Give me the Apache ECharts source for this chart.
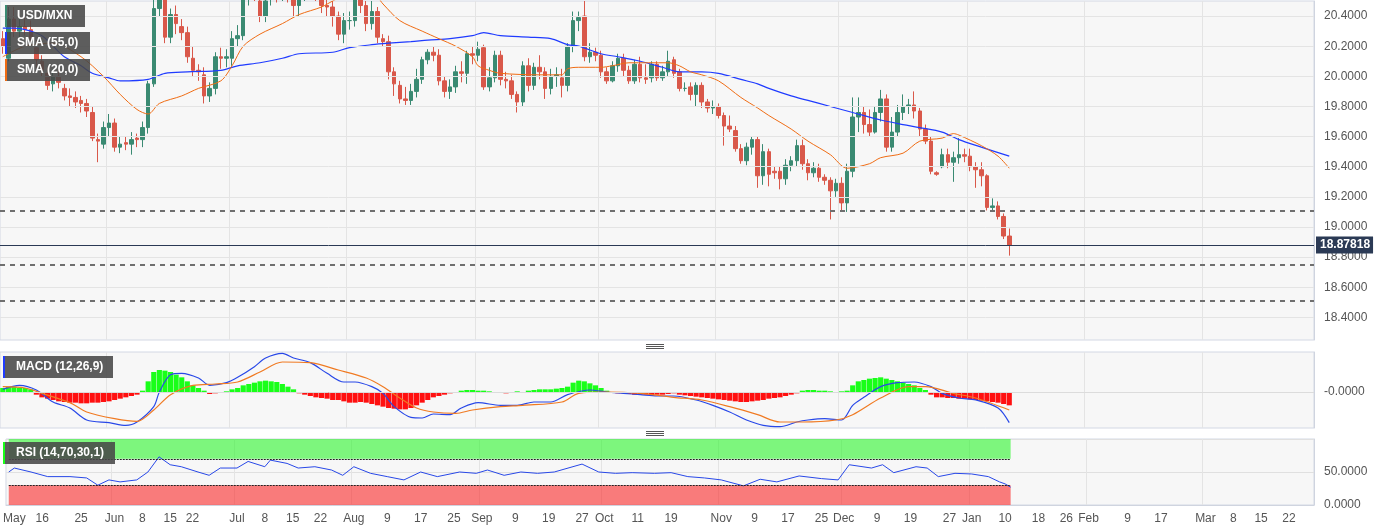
<!DOCTYPE html>
<html><head><meta charset="utf-8">
<script src="https://cdn.jsdelivr.net/npm/echarts@6/dist/echarts.min.js"></script>
<style>html,body{margin:0;padding:0;background:#fff}#c{width:1387px;height:532px}</style>
</head><body><div id="c"></div>
<script>
// [open, close, low, high]
const candles = [
[20.25,20.20,20.15,20.30],[20.12,20.38,20.10,20.46],[20.38,20.30,20.26,20.46],[20.30,20.33,20.25,20.40],[20.33,20.31,20.27,20.39],
[20.31,20.25,20.20,20.37],[20.19,20.11,20.06,20.24],[20.10,20.04,20.00,20.14],[20.02,19.94,19.91,20.06],[19.95,20.00,19.90,20.05],
[20.00,19.96,19.92,20.05],[19.92,19.87,19.84,19.95],[19.87,19.86,19.80,19.92],[19.86,19.83,19.79,19.90],[19.84,19.82,19.76,19.87],
[19.82,19.77,19.73,19.85],[19.76,19.59,19.57,19.80],[19.58,19.57,19.43,19.62],[19.55,19.66,19.52,19.70],[19.66,19.69,19.60,19.75],
[19.69,19.53,19.50,19.72],[19.53,19.55,19.49,19.60],[19.56,19.55,19.51,19.60],[19.55,19.58,19.48,19.63],[19.59,19.58,19.53,19.62],
[19.58,19.66,19.53,19.70],[19.66,19.95,19.62,19.97],[19.95,20.45,19.93,20.52],[20.45,20.56,20.40,20.62],[20.55,20.26,20.22,20.58],
[20.26,20.41,20.22,20.45],[20.41,20.35,20.28,20.47],[20.33,20.29,20.24,20.38],[20.29,20.13,20.09,20.33],[20.12,20.04,20.00,20.20],
[20.04,20.03,19.97,20.08],[20.01,19.87,19.82,20.06],[19.87,19.92,19.83,19.96],[19.92,20.13,19.88,20.16],[20.13,20.12,20.05,20.19],
[20.12,20.13,20.06,20.18],[20.12,20.25,20.07,20.30],[20.25,20.27,20.20,20.34],[20.27,20.52,20.24,20.56],[20.52,20.58,20.47,20.63],
[20.58,20.55,20.50,20.62],[20.50,20.40,20.36,20.53],[20.40,20.50,20.36,20.55],[20.52,20.60,20.47,20.65],[20.60,20.55,20.49,20.64],
[20.55,20.62,20.50,20.67],[20.62,20.54,20.49,20.65],[20.54,20.47,20.39,20.58],[20.47,20.55,20.40,20.60],[20.55,20.62,20.50,20.66],
[20.62,20.58,20.53,20.66],[20.58,20.54,20.50,20.62],[20.54,20.47,20.42,20.58],[20.47,20.46,20.40,20.52],[20.46,20.40,20.33,20.50],
[20.40,20.28,20.24,20.43],[20.28,20.37,20.22,20.42],[20.37,20.37,20.31,20.43],[20.37,20.52,20.33,20.56],[20.52,20.47,20.42,20.56],
[20.47,20.35,20.30,20.50],[20.35,20.43,20.31,20.50],[20.43,20.26,20.22,20.46],[20.25,20.23,20.20,20.28],[20.23,20.03,19.98,20.27],
[20.03,19.95,19.87,20.06],[19.94,19.85,19.82,19.97],[19.85,19.84,19.81,19.93],[19.84,19.90,19.81,19.95],[19.90,19.98,19.86,20.05],
[19.98,20.11,19.95,20.13],[20.11,20.16,20.08,20.18],[20.16,20.14,20.10,20.20],[20.14,19.97,19.94,20.18],[19.97,19.90,19.86,20.00],
[19.90,19.93,19.85,19.98],[19.93,20.03,19.89,20.07],[20.03,20.02,19.96,20.10],[20.02,20.15,19.95,20.17],[20.15,20.14,20.08,20.20],
[20.14,20.18,20.10,20.23],[20.19,19.93,19.91,20.21],[19.93,19.99,19.90,20.06],[19.99,20.14,19.96,20.17],[20.14,19.98,19.94,20.17],
[19.98,19.97,19.92,20.03],[19.97,19.88,19.85,20.01],[19.88,19.83,19.76,19.90],[19.83,20.07,19.80,20.10],[20.07,19.94,19.90,20.12],
[19.94,20.06,19.91,20.09],[20.06,20.03,19.98,20.14],[20.03,19.92,19.85,20.06],[19.92,20.00,19.88,20.05],[20.00,20.01,19.93,20.06],
[19.99,19.94,19.86,20.05],[19.94,20.20,19.90,20.22],[20.20,20.37,20.16,20.43],[20.37,20.39,20.30,20.43],[20.40,20.13,20.10,20.50],
[20.13,20.16,20.09,20.22],[20.16,20.14,20.10,20.19],[20.14,20.03,19.99,20.17],[20.03,19.97,19.95,20.06],[19.97,20.07,19.96,20.10],
[20.07,20.12,20.03,20.15],[20.12,20.04,20.00,20.15],[20.04,19.97,19.95,20.07],[19.97,20.08,19.95,20.11],[20.08,19.99,19.96,20.13],
[19.99,19.98,19.95,20.08],[19.99,20.08,19.96,20.10],[20.08,19.99,19.97,20.10],[19.99,20.03,19.97,20.07],[20.03,20.10,20.00,20.17],
[20.11,20.02,19.99,20.13],[20.03,19.92,19.90,20.05],[19.92,19.92,19.90,19.96],[19.93,19.88,19.84,19.96],[19.88,19.94,19.80,19.96],
[19.94,19.83,19.79,19.96],[19.83,19.79,19.76,19.85],[19.79,19.80,19.75,19.84],[19.80,19.74,19.72,19.82],[19.74,19.67,19.54,19.76],
[19.67,19.65,19.63,19.74],[19.64,19.52,19.50,19.67],[19.52,19.44,19.42,19.55],[19.44,19.53,19.41,19.56],[19.53,19.58,19.48,19.60],
[19.58,19.34,19.26,19.60],[19.34,19.50,19.28,19.55],[19.50,19.35,19.27,19.52],[19.37,19.36,19.32,19.40],[19.37,19.32,19.25,19.40],
[19.32,19.41,19.28,19.45],[19.41,19.44,19.37,19.47],[19.44,19.54,19.40,19.58],[19.54,19.42,19.38,19.58],[19.42,19.36,19.31,19.45],
[19.36,19.39,19.33,19.43],[19.39,19.33,19.30,19.42],[19.33,19.31,19.28,19.35],[19.31,19.24,19.05,19.33],[19.24,19.29,19.20,19.32],
[19.29,19.16,19.10,19.33],[19.16,19.37,19.10,19.42],[19.37,19.73,19.33,19.86],[19.73,19.76,19.63,19.86],[19.76,19.68,19.62,19.80],
[19.68,19.63,19.60,19.78],[19.63,19.76,19.62,19.80],[19.76,19.85,19.70,19.91],[19.85,19.53,19.50,19.88],[19.53,19.63,19.50,19.73],
[19.63,19.76,19.60,19.81],[19.76,19.80,19.71,19.88],[19.80,19.81,19.75,19.85],[19.81,19.77,19.72,19.90],[19.77,19.65,19.60,19.79],
[19.65,19.57,19.55,19.68],[19.57,19.37,19.35,19.60],[19.36,19.35,19.34,19.37],[19.40,19.48,19.39,19.52],[19.48,19.43,19.39,19.52],
[19.43,19.46,19.30,19.50],[19.46,19.48,19.42,19.59],[19.48,19.47,19.43,19.52],[19.47,19.40,19.37,19.52],[19.40,19.38,19.26,19.43],
[19.38,19.34,19.27,19.43],[19.34,19.13,19.11,19.35],[19.13,19.14,19.10,19.19],[19.14,19.07,19.05,19.17],[19.07,18.94,18.92,19.09],
[18.94,18.87818,18.81,18.99]
];
const sma55 = [[0,20.32],[2,20.32],[4,20.31],[7,20.27],[9,20.20],[11,20.13],[14,20.07],[16,20.02],[19,19.99],[21,19.97],[26,19.98],[29,20.02],[33,20.03],[39,20.04],[42,20.07],[46,20.09],[50,20.12],[53,20.15],[59,20.16],[62,20.19],[66,20.21],[69,20.22],[73,20.23],[76,20.24],[80,20.25],[84,20.27],[86,20.29],[89,20.27],[94,20.26],[98,20.25],[101,20.21],[103,20.20],[107,20.15],[110,20.13],[114,20.10],[118,20.06],[121,20.03],[125,20.03],[128,20.02],[132,19.98],[135,19.95],[137,19.92],[141,19.87],[144,19.84],[148,19.80],[152,19.76],[157,19.71],[161,19.68],[164,19.66],[168,19.63],[171,19.58],[175,19.53],[180,19.47]];
const sma20 = [[0,20.13],[4,20.20],[9,20.22],[14,20.13],[18,20.00],[21,19.88],[24,19.78],[26,19.75],[28,19.82],[32,19.87],[35,19.92],[39,19.97],[41,20.07],[43,20.20],[46,20.28],[50,20.35],[53,20.41],[57,20.46],[59,20.50],[62,20.55],[66,20.56],[68,20.48],[71,20.37],[75,20.30],[78,20.25],[81,20.20],[84,20.13],[85,20.07],[87,20.04],[89,20.02],[96,20.01],[100,20.01],[101,20.05],[103,20.06],[107,20.06],[109,20.07],[112,20.09],[119,20.09],[121,20.07],[123,20.03],[125,20.01],[128,19.97],[132,19.86],[135,19.79],[137,19.74],[141,19.65],[144,19.57],[148,19.48],[151,19.39],[155,19.42],[157,19.46],[161,19.49],[164,19.57],[168,19.59],[170,19.62],[171,19.61],[175,19.54],[178,19.47],[180,19.39]];
const macdHist = [0.03,0.04,0.04,0.03,0.03,0.02,-0.02,-0.04,-0.05,-0.06,-0.07,-0.075,-0.08,-0.08,-0.085,-0.085,-0.08,-0.08,-0.075,-0.07,-0.06,-0.05,-0.04,-0.03,-0.02,0.01,0.08,0.15,0.165,0.16,0.15,0.13,0.11,0.08,0.05,0.03,0.01,-0.015,-0.01,0,0.005,0.02,0.03,0.05,0.06,0.07,0.08,0.085,0.08,0.075,0.06,0.04,0.02,-0.01,-0.02,-0.03,-0.04,-0.045,-0.05,-0.06,-0.06,-0.07,-0.08,-0.08,-0.075,-0.08,-0.09,-0.1,-0.11,-0.12,-0.125,-0.13,-0.13,-0.12,-0.1,-0.08,-0.06,-0.04,-0.03,-0.02,-0.01,0,0.01,0.015,0.015,0.01,0.01,0.005,0,-0.005,-0.01,0,0.005,0,0.01,0.015,0.02,0.02,0.02,0.025,0.03,0.04,0.07,0.085,0.08,0.065,0.05,0.03,0.01,-0.005,-0.01,-0.01,-0.015,-0.02,-0.02,-0.02,-0.025,-0.02,-0.02,-0.015,-0.01,-0.02,-0.025,-0.03,-0.035,-0.04,-0.045,-0.05,-0.055,-0.06,-0.065,-0.07,-0.075,-0.075,-0.07,-0.065,-0.06,-0.05,-0.045,-0.04,-0.03,-0.02,-0.01,0.01,0.015,0.015,0.01,0.01,0.005,0,0.005,0.01,0.05,0.08,0.09,0.1,0.105,0.11,0.1,0.09,0.08,0.07,0.06,0.05,0.03,0.015,-0.02,-0.04,-0.04,-0.045,-0.045,-0.05,-0.05,-0.055,-0.06,-0.065,-0.07,-0.075,-0.08,-0.09,-0.1];
const macdLine = [[0,0.02],[3,0.05],[6,0.015],[9,-0.075],[12,-0.12],[15,-0.21],[19,-0.23],[22,-0.25],[24,-0.225],[27,-0.11],[28,0],[30,0.13],[32,0.14],[35,0.105],[37,0.05],[40,0.07],[42,0.11],[45,0.19],[47,0.255],[50,0.29],[52,0.255],[55,0.22],[58,0.14],[61,0.075],[63,0.075],[66,0.04],[68,-0.01],[70,-0.11],[73,-0.19],[75,-0.195],[77,-0.165],[80,-0.17],[82,-0.12],[85,-0.08],[89,-0.1],[92,-0.1],[95,-0.075],[98,-0.075],[101,-0.02],[105,0.015],[108,0],[111,-0.01],[114,-0.02],[117,-0.03],[120,-0.03],[124,-0.06],[127,-0.1],[130,-0.15],[133,-0.21],[136,-0.25],[139,-0.26],[142,-0.225],[144,-0.21],[147,-0.2],[150,-0.21],[152,-0.1],[154,-0.04],[157,0.04],[160,0.07],[163,0.075],[166,0.04],[168,-0.01],[171,-0.045],[174,-0.06],[178,-0.12],[180,-0.23]];
const macdSignal = [[0,0.04],[4,0.03],[7,-0.01],[12,-0.08],[15,-0.15],[20,-0.2],[24,-0.22],[27,-0.135],[30,-0.02],[34,0.05],[38,0.06],[42,0.075],[46,0.15],[50,0.225],[55,0.22],[60,0.165],[65,0.105],[68,0.04],[71,-0.045],[74,-0.12],[77,-0.15],[81,-0.16],[84,-0.135],[89,-0.11],[93,-0.1],[100,-0.075],[103,-0.01],[108,0],[114,-0.01],[120,-0.04],[125,-0.06],[130,-0.11],[135,-0.17],[139,-0.225],[143,-0.225],[149,-0.21],[152,-0.17],[157,-0.045],[162,0.04],[165,0.04],[170,-0.01],[174,-0.045],[180,-0.135]];
const rsi = [[0,50],[1,56],[4,50],[7,43],[11,43],[14,41],[16,30],[18,38],[20,35],[23,38],[25,50],[27,73],[29,61],[31,58],[34,50],[36,45],[38,56],[41,56],[43,66],[46,58],[47,68],[50,63],[52,56],[55,58],[58,53],[60,45],[62,58],[65,48],[68,43],[71,38],[74,50],[77,43],[81,50],[84,48],[86,53],[89,45],[92,50],[95,48],[98,50],[103,62],[106,50],[109,48],[112,49],[116,48],[119,49],[122,43],[125,41],[128,38],[132,29],[135,39],[138,35],[142,44],[146,40],[149,38],[151,61],[155,56],[157,61],[159,49],[163,58],[165,56],[167,43],[170,48],[173,47],[176,43],[178,35],[179,32],[180,27]];
const levels = [19.115, 18.748, 18.51];
const lastPrice = 18.87818;
const priceTicks = [18.4,18.6,18.8,19.0,19.2,19.4,19.6,19.8,20.0,20.2,20.4];
const labelIdx = [1,6,13,19,24,29,33,41,46,51,56,62,68,74,80,85,91,97,103,107,113,119,128,134,140,146,150,156,162,169,173,179,185,190,194,201,207,215,220,225,230];
const labelText = ['May','16','25','Jun','8','15','22','Jul','8','15','22','Aug','9','17','25','Sep','9','19','27','Oct','11','19','Nov','9','17','25','Dec','9','19','27','Jan','10','18','26','Feb','9','17','Mar','8','15','22'];
const monthIdx = [19,41,62,85,107,128,150,173,194,215];

const N = 235;
const cats = []; for (let i = 0; i < N; i++) cats.push(String(i));
const labMap = {}; labelIdx.forEach((k, j) => labMap[k] = labelText[j]);
const GREEN = '#3a8a72', RED = '#d9584a';
const font = 'Liberation Sans, Arial, sans-serif';
const grids = [
  {left: 0, right: 73, top: 1, height: 339},
  {left: 0, right: 73, top: 352, height: 76},
  {left: 0, right: 73, top: 439, height: 66}
];
grids.forEach(g => { g.show = true; g.backgroundColor = '#f7f7f7'; g.borderColor = '#d3d8e4'; g.borderWidth = 1; });
const xAx = grids.map((g, k) => ({
  type: 'category', data: cats, gridIndex: k, boundaryGap: true,
  axisLine: {show: k === 2, lineStyle: {color: '#cfd4df'}}, axisTick: {show: false},
  axisLabel: {show: k === 2, interval: (i) => labMap[i] !== undefined, formatter: (v, i) => labMap[i] || '', color: '#555', fontFamily: font, fontSize: 12, margin: 8},
  splitLine: {show: true, interval: (i) => monthIdx.indexOf(i) >= 0, lineStyle: {color: '#e4e4e4'}}
}));
const yAx = [
  {type: 'value', gridIndex: 0, position: 'right', min: 18.25, max: 20.5, interval: 0.05,
   axisLine: {show: true, lineStyle: {color: '#cfd4df'}}, axisTick: {show: false},
   splitLine: {show: false},
   axisLabel: {color: '#555', fontFamily: font, fontSize: 12, margin: 10,
     formatter: v => priceTicks.some(t => Math.abs(t - v) < 1e-6) ? v.toFixed(4) : ''}},
  {type: 'value', gridIndex: 1, position: 'right', min: -0.27, max: 0.30, interval: 0.03,
   axisLine: {show: true, lineStyle: {color: '#cfd4df'}}, axisTick: {show: false}, splitLine: {show: false},
   axisLabel: {color: '#555', fontFamily: font, fontSize: 12, margin: 10, formatter: v => Math.abs(v) < 1e-6 ? '-0.0000' : ''}},
  {type: 'value', gridIndex: 2, position: 'right', min: 0, max: 100, interval: 50,
   axisLine: {show: true, lineStyle: {color: '#cfd4df'}}, axisTick: {show: false},
   splitLine: {show: true, lineStyle: {color: '#e0e0e0'}},
   axisLabel: {color: '#555', fontFamily: font, fontSize: 12, margin: 10, formatter: v => v < 99 ? v.toFixed(4) : ''}}
];
const boxFill = 'rgba(72,72,72,0.88)';
const txt = (l, t, s) => ({type: 'text', left: l, top: t, z: 101, style: {text: s, fill: '#fff', font: 'bold 12px ' + font}});
const rect = (l, t, w, h, f) => ({type: 'rect', left: l, top: t, z: 100, shape: {width: w, height: h}, style: {fill: f}});
const option = {
  animation: false,
  grid: grids, xAxis: xAx, yAxis: yAx,
  series: [
    {type: 'line', xAxisIndex: 0, yAxisIndex: 0, data: [], silent: true,
     markLine: {symbol: 'none', silent: true, label: {show: false}, lineStyle: {color: '#e4e4e4', type: 'solid', width: 1},
       data: priceTicks.map(t => ({yAxis: t}))}},
    {type: 'candlestick', xAxisIndex: 0, yAxisIndex: 0, data: candles, barWidth: 4, clip: true,
     itemStyle: {color: GREEN, color0: RED, borderColor: GREEN, borderColor0: RED, borderWidth: 1},
     markLine: {symbol: 'none', silent: true,
       data: levels.map(v => ({yAxis: v, lineStyle: {color: '#6f6f6f', type: [5, 5], width: 2}, label: {show: false}})).concat([
         {yAxis: lastPrice, lineStyle: {color: '#2b3a55', type: 'solid', width: 1},
          label: {show: true, position: 'end', formatter: String(lastPrice), color: '#fff', backgroundColor: '#2b3a55', padding: [3, 3, 2, 4], fontFamily: font, fontSize: 12, fontWeight: 'bold', distance: 2}}])}},
    {type: 'line', xAxisIndex: 0, yAxisIndex: 0, data: sma55, showSymbol: false, smooth: 0.3, lineStyle: {color: '#1f3bff', width: 1.2}, clip: true},
    {type: 'line', xAxisIndex: 0, yAxisIndex: 0, data: sma20, showSymbol: false, smooth: 0.3, lineStyle: {color: '#ef6c14', width: 1}, clip: true},
    {type: 'bar', xAxisIndex: 1, yAxisIndex: 1, data: macdHist.map(v => ({value: v, itemStyle: {color: v >= 0 ? '#19ff19' : '#ff1010'}})), barWidth: '92%',
     markLine: {symbol: 'none', silent: true, label: {show: false}, lineStyle: {color: '#dcdcdc', type: 'solid', width: 1}, data: [{yAxis: 0}]}},
    {type: 'line', xAxisIndex: 1, yAxisIndex: 1, data: macdLine, showSymbol: false, smooth: 0.3, lineStyle: {color: '#2848e8', width: 1.2}},
    {type: 'line', xAxisIndex: 1, yAxisIndex: 1, data: macdSignal, showSymbol: false, smooth: 0.3, lineStyle: {color: '#f07a22', width: 1.2}},
    {type: 'line', xAxisIndex: 2, yAxisIndex: 2, data: rsi, showSymbol: false, lineStyle: {color: '#2848e8', width: 1},
     markArea: {silent: true, data: [
       [{xAxis: '0', yAxis: 70, itemStyle: {color: 'rgba(25,245,25,0.55)'}}, {xAxis: '180', yAxis: 100}],
       [{xAxis: '0', yAxis: 0, itemStyle: {color: 'rgba(250,40,40,0.6)'}}, {xAxis: '180', yAxis: 30}]]},
     markLine: {symbol: 'none', silent: true, label: {show: false}, lineStyle: {color: '#222', type: [2, 1], width: 1},
       data: [[{xAxis: '0', yAxis: 70}, {xAxis: '180', yAxis: 70}], [{xAxis: '0', yAxis: 30}, {xAxis: '180', yAxis: 30}]]}}
  ],
  graphic: [
    rect(5, 5, 80, 22, boxFill), rect(5, 5, 2, 22, GREEN), txt(17, 10, 'USD/MXN'),
    rect(5, 32, 85, 22, boxFill), rect(5, 32, 2, 22, '#1f3bff'), txt(17, 37, 'SMA (55,0)'),
    rect(5, 59, 85, 22, boxFill), rect(5, 59, 2, 22, '#ef6c14'), txt(17, 64, 'SMA (20,0)'),
    rect(3, 356, 110, 22, boxFill), rect(3, 356, 2, 22, '#1f3bff'), txt(16, 361, 'MACD (12,26,9)'),
    rect(3, 442, 112, 22, boxFill), rect(3, 442, 2, 22, '#19ff19'), txt(16, 447, 'RSI (14,70,30,1)'),
    rect(646, 344, 18, 1, '#555'), rect(646, 346, 18, 1, '#555'), rect(646, 348, 18, 1, '#555'),
    rect(646, 431, 18, 1, '#555'), rect(646, 433, 18, 1, '#555'), rect(646, 435, 18, 1, '#555')
  ]
};
const chart = echarts.init(document.getElementById('c'), null, {renderer: 'canvas'});
chart.setOption(option);
</script></body></html>
